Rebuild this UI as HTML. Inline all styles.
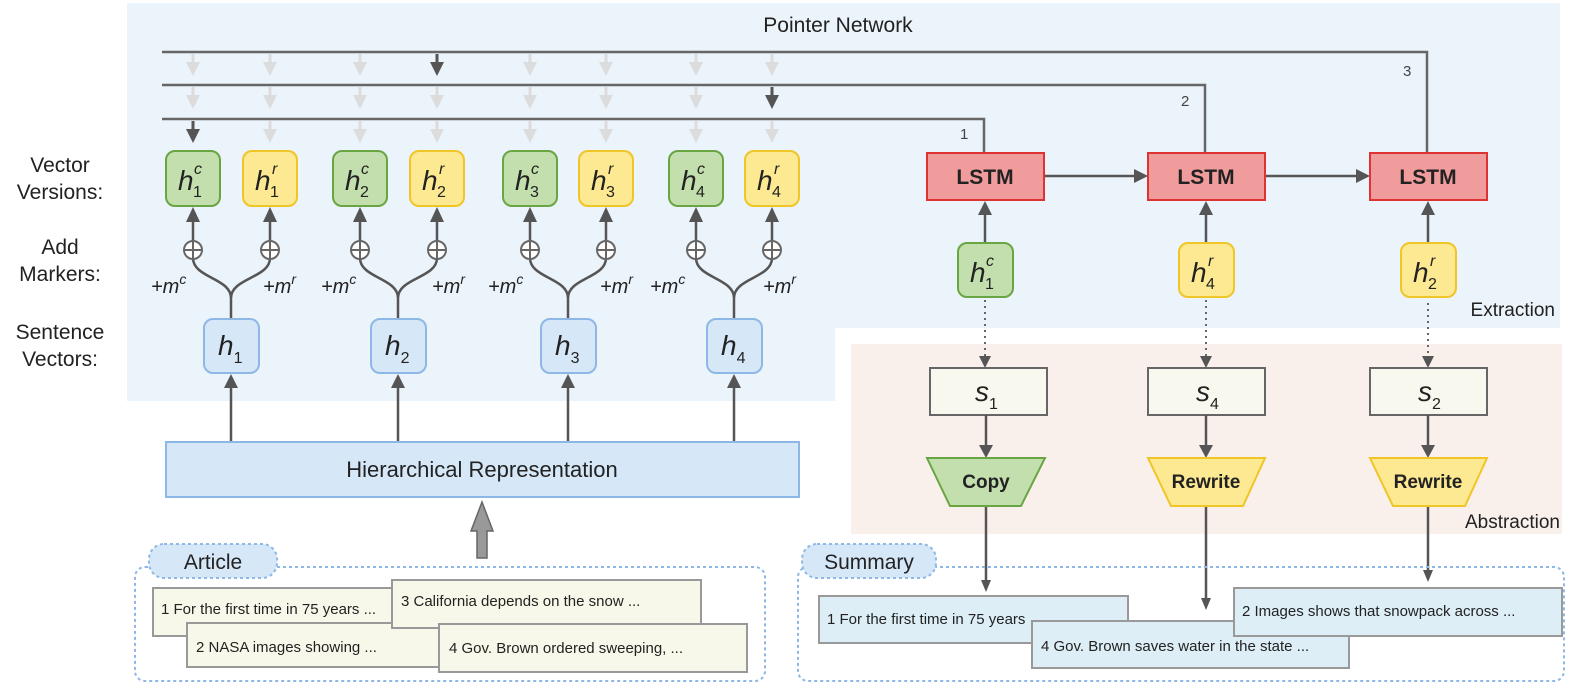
<!DOCTYPE html>
<html><head><meta charset="utf-8"><style>
html,body{margin:0;padding:0;background:#fff}
svg{display:block}
text{font-family:"Liberation Sans",sans-serif}
</style></head><body>
<svg width="1575" height="686" viewBox="0 0 1575 686" xmlns="http://www.w3.org/2000/svg">
<!-- backgrounds -->
<path d="M127,3 H1560 V328 H835 V401 H127 Z" fill="#ebf3fb"/>
<rect x="851" y="344" width="711" height="190" fill="#f9f0ec"/>
<text x="838" y="32" font-size="21" text-anchor="middle" fill="#222">Pointer Network</text>
<text x="1555" y="316" font-size="19" text-anchor="end" fill="#222">Extraction</text>
<text x="1560" y="528" font-size="19" text-anchor="end" fill="#222">Abstraction</text>
<!-- left labels -->
<g font-size="21" fill="#222" text-anchor="middle">
<text x="60" y="172">Vector</text><text x="60" y="199">Versions:</text>
<text x="60" y="254">Add</text><text x="60" y="281">Markers:</text>
<text x="60" y="339">Sentence</text><text x="60" y="366">Vectors:</text>
</g>
<!-- pointer lines -->
<g stroke="#666" stroke-width="2.5" fill="none">
<path d="M162,52 H1427 V153"/>
<path d="M162,85 H1205 V153"/>
<path d="M162,119 H984 V153"/>
</g>
<g font-size="15" fill="#444"><text x="1403" y="76">3</text><text x="1181" y="106">2</text><text x="960" y="139">1</text></g>
<!-- light arrows -->
<g stroke="#dcdcdc" stroke-width="3">
<path d="M193,54V63M270,54V63M360,54V63M530,54V63M606,54V63M696,54V63M772,54V63"/>
<path d="M193,87V96M270,87V96M360,87V96M437,87V96M530,87V96M606,87V96M696,87V96"/>
<path d="M270,121V130M360,121V130M437,121V130M530,121V130M606,121V130M696,121V130M772,121V130"/>
</g>
<g fill="#dcdcdc">
<path d="M186,62H200L193,76Z M263,62H277L270,76Z M353,62H367L360,76Z M523,62H537L530,76Z M599,62H613L606,76Z M689,62H703L696,76Z M765,62H779L772,76Z"/>
<path d="M186,95H200L193,109Z M263,95H277L270,109Z M353,95H367L360,109Z M430,95H444L437,109Z M523,95H537L530,109Z M599,95H613L606,109Z M689,95H703L696,109Z"/>
<path d="M263,129H277L270,143Z M353,129H367L360,143Z M430,129H444L437,143Z M523,129H537L530,143Z M599,129H613L606,143Z M689,129H703L696,143Z M765,129H779L772,143Z"/>
</g>
<g stroke="#555" stroke-width="3"><path d="M437,54V63M772,87V96M193,121V130"/></g>
<g fill="#555"><path d="M430,62H444L437,76Z M765,95H779L772,109Z M186,129H200L193,143Z"/></g>
<!-- vector version boxes -->
<g stroke-width="2">
<rect x="166" y="151" width="54" height="55" rx="9" fill="#c3dfae" stroke="#6aa544"/>
<rect x="243" y="151" width="54" height="55" rx="9" fill="#fde991" stroke="#f0c528"/>
<rect x="333" y="151" width="54" height="55" rx="9" fill="#c3dfae" stroke="#6aa544"/>
<rect x="410" y="151" width="54" height="55" rx="9" fill="#fde991" stroke="#f0c528"/>
<rect x="503" y="151" width="54" height="55" rx="9" fill="#c3dfae" stroke="#6aa544"/>
<rect x="579" y="151" width="54" height="55" rx="9" fill="#fde991" stroke="#f0c528"/>
<rect x="669" y="151" width="54" height="55" rx="9" fill="#c3dfae" stroke="#6aa544"/>
<rect x="745" y="151" width="54" height="55" rx="9" fill="#fde991" stroke="#f0c528"/>
</g>
<g font-size="28" fill="#222" font-style="italic">
<text x="178" y="190">h</text><text x="194" y="174" font-size="16">c</text><text x="193" y="197" font-size="16" font-style="normal">1</text>
<text x="255" y="190">h</text><text x="272" y="174" font-size="16">r</text><text x="270" y="197" font-size="16" font-style="normal">1</text>
<text x="345" y="190">h</text><text x="361" y="174" font-size="16">c</text><text x="360" y="197" font-size="16" font-style="normal">2</text>
<text x="422" y="190">h</text><text x="439" y="174" font-size="16">r</text><text x="437" y="197" font-size="16" font-style="normal">2</text>
<text x="515" y="190">h</text><text x="531" y="174" font-size="16">c</text><text x="530" y="197" font-size="16" font-style="normal">3</text>
<text x="591" y="190">h</text><text x="608" y="174" font-size="16">r</text><text x="606" y="197" font-size="16" font-style="normal">3</text>
<text x="681" y="190">h</text><text x="697" y="174" font-size="16">c</text><text x="696" y="197" font-size="16" font-style="normal">4</text>
<text x="757" y="190">h</text><text x="774" y="174" font-size="16">r</text><text x="772" y="197" font-size="16" font-style="normal">4</text>
</g>
<!-- markers / forks -->
<g stroke="#555" stroke-width="2.5" fill="none">
<path d="M193,241V220M270,241V220M360,241V220M437,241V220M530,241V220M606,241V220M696,241V220M772,241V220"/>
<path d="M231,319 V298 C231,278 193,278 193,258 M231,298 C231,278 270,278 270,258"/>
<path d="M398,319 V298 C398,278 360,278 360,258 M398,298 C398,278 437,278 437,258"/>
<path d="M568,319 V298 C568,278 530,278 530,258 M568,298 C568,278 606,278 606,258"/>
<path d="M734,319 V298 C734,278 696,278 696,258 M734,298 C734,278 772,278 772,258"/>
</g>
<g fill="#555"><path d="M186,222H200L193,207Z M263,222H277L270,207Z M353,222H367L360,207Z M430,222H444L437,207Z M523,222H537L530,207Z M599,222H613L606,207Z M689,222H703L696,207Z M765,222H779L772,207Z"/></g>
<g stroke="#666" stroke-width="2" fill="#fff">
<circle cx="193" cy="250" r="9"/><circle cx="270" cy="250" r="9"/><circle cx="360" cy="250" r="9"/><circle cx="437" cy="250" r="9"/>
<circle cx="530" cy="250" r="9"/><circle cx="606" cy="250" r="9"/><circle cx="696" cy="250" r="9"/><circle cx="772" cy="250" r="9"/>
</g>
<path stroke="#666" stroke-width="2" d="M184,250H202M193,241V259M261,250H279M270,241V259M351,250H369M360,241V259M428,250H446M437,241V259M521,250H539M530,241V259M597,250H615M606,241V259M687,250H705M696,241V259M763,250H781M772,241V259"/>
<g font-size="20" fill="#222" font-style="italic">
<text x="151" y="293">+m<tspan font-size="14" dy="-9">c</tspan></text>
<text x="263" y="293">+m<tspan font-size="14" dy="-9">r</tspan></text>
<text x="321" y="293">+m<tspan font-size="14" dy="-9">c</tspan></text>
<text x="432" y="293">+m<tspan font-size="14" dy="-9">r</tspan></text>
<text x="488" y="293">+m<tspan font-size="14" dy="-9">c</tspan></text>
<text x="600" y="293">+m<tspan font-size="14" dy="-9">r</tspan></text>
<text x="650" y="293">+m<tspan font-size="14" dy="-9">c</tspan></text>
<text x="763" y="293">+m<tspan font-size="14" dy="-9">r</tspan></text>
</g>
<!-- sentence vectors -->
<g fill="#d6e7f8" stroke="#8db8e6" stroke-width="2">
<rect x="204" y="319" width="55" height="54" rx="9"/><rect x="371" y="319" width="55" height="54" rx="9"/>
<rect x="541" y="319" width="55" height="54" rx="9"/><rect x="707" y="319" width="55" height="54" rx="9"/>
</g>
<g font-size="28" fill="#222" font-style="italic">
<text x="218" y="355">h<tspan font-size="16" font-style="normal" dy="8">1</tspan></text>
<text x="385" y="355">h<tspan font-size="16" font-style="normal" dy="8">2</tspan></text>
<text x="555" y="355">h<tspan font-size="16" font-style="normal" dy="8">3</tspan></text>
<text x="721" y="355">h<tspan font-size="16" font-style="normal" dy="8">4</tspan></text>
</g>
<g stroke="#555" stroke-width="2.5"><path d="M231,442V385M398,442V385M568,442V385M734,442V385"/></g>
<g fill="#555"><path d="M224,388H238L231,374Z M391,388H405L398,374Z M561,388H575L568,374Z M727,388H741L734,374Z"/></g>
<rect x="166" y="442" width="633" height="55" fill="#d6e7f8" stroke="#8db8e6" stroke-width="2"/>
<text x="482" y="477" font-size="22" text-anchor="middle" fill="#222">Hierarchical Representation</text>
<path d="M477,558 V531 H471 L482,502 L493,531 H487 V558 Z" fill="#999" stroke="#666" stroke-width="1.5"/>
<!-- LSTMs -->
<g stroke="#555" stroke-width="2.5">
<path d="M1044,176H1136M1265,176H1358"/>
<path d="M985,243V212M1206,243V212M1428,243V212"/>
</g>
<g fill="#555">
<path d="M1134,169L1148,176L1134,183Z M1356,169L1370,176L1356,183Z"/>
<path d="M978,215H992L985,201Z M1199,215H1213L1206,201Z M1421,215H1435L1428,201Z"/>
</g>
<g fill="#f09c9c" stroke="#d33" stroke-width="2">
<rect x="927" y="153" width="117" height="47"/><rect x="1148" y="153" width="117" height="47"/><rect x="1370" y="153" width="117" height="47"/>
</g>
<g font-size="21" font-weight="bold" fill="#222" text-anchor="middle">
<text x="985" y="184">LSTM</text><text x="1206" y="184">LSTM</text><text x="1428" y="184">LSTM</text>
</g>
<rect x="958" y="243" width="55" height="54" rx="9" fill="#c3dfae" stroke="#6aa544" stroke-width="2"/>
<rect x="1179" y="243" width="55" height="54" rx="9" fill="#fde991" stroke="#f0c528" stroke-width="2"/>
<rect x="1401" y="243" width="55" height="54" rx="9" fill="#fde991" stroke="#f0c528" stroke-width="2"/>
<g font-size="28" fill="#222" font-style="italic">
<text x="970" y="282">h</text><text x="986" y="266" font-size="16">c</text><text x="985" y="289" font-size="16" font-style="normal">1</text>
<text x="1191" y="282">h</text><text x="1208" y="266" font-size="16">r</text><text x="1206" y="289" font-size="16" font-style="normal">4</text>
<text x="1413" y="282">h</text><text x="1430" y="266" font-size="16">r</text><text x="1428" y="289" font-size="16" font-style="normal">2</text>
</g>
<g stroke="#666" stroke-width="2" stroke-dasharray="2,4">
<path d="M985,300 V358 M1206,300 V358 M1428,303 V358"/>
</g>
<g fill="#555"><path d="M979,356 L991,356 L985,368Z M1200,356 L1212,356 L1206,368Z M1422,356 L1434,356 L1428,368Z"/></g>
<g fill="#f8f8ee" stroke="#666" stroke-width="2">
<rect x="930" y="368" width="117" height="47"/><rect x="1148" y="368" width="117" height="47"/><rect x="1370" y="368" width="117" height="47"/>
</g>
<g font-size="28" fill="#222" font-style="italic">
<text x="975" y="401">s<tspan font-size="16" font-style="normal" dy="8">1</tspan></text>
<text x="1196" y="401">s<tspan font-size="16" font-style="normal" dy="8">4</tspan></text>
<text x="1418" y="401">s<tspan font-size="16" font-style="normal" dy="8">2</tspan></text>
</g>
<g stroke="#555" stroke-width="2.5">
<path d="M986,415V448M1206,415V448M1428,415V448"/>
<path d="M986,506V582M1206,506V600M1428,506V572"/>
</g>
<g fill="#555">
<path d="M979,445H993L986,458Z M1199,445H1213L1206,458Z M1421,445H1435L1428,458Z"/>
<path d="M981,580H991L986,592Z M1201,598H1211L1206,610Z M1423,570H1433L1428,582Z"/>
</g>
<path d="M927,458 H1045 L1021,506 H950 Z" fill="#c3dfae" stroke="#6aa544" stroke-width="2"/>
<path d="M1148,458 H1265 L1243,506 H1171 Z" fill="#fde991" stroke="#f0c528" stroke-width="2"/>
<path d="M1370,458 H1487 L1465,506 H1393 Z" fill="#fde991" stroke="#f0c528" stroke-width="2"/>
<g font-size="19" font-weight="bold" fill="#222" text-anchor="middle">
<text x="986" y="488">Copy</text><text x="1206" y="488">Rewrite</text><text x="1428" y="488">Rewrite</text>
</g>
<!-- article -->
<rect x="135" y="567" width="630" height="114" rx="10" fill="none" stroke="#8db8e6" stroke-width="2" stroke-dasharray="3,3"/>
<rect x="149" y="544" width="128" height="34" rx="15" fill="#d6e7f8" stroke="#8db8e6" stroke-width="2" stroke-dasharray="3,3"/>
<text x="213" y="569" font-size="21" text-anchor="middle" fill="#222">Article</text>
<g fill="#f8f8ea" stroke="#999" stroke-width="2">
<rect x="153" y="588" width="243" height="48"/>
<rect x="187" y="623" width="255" height="44"/>
<rect x="392" y="580" width="309" height="48"/>
<rect x="439" y="624" width="308" height="48"/>
</g>
<g font-size="15" fill="#222">
<text x="161" y="614">1 For the first time in 75 years ...</text>
<text x="401" y="606">3 California depends on the snow ...</text>
<text x="196" y="652">2 NASA images showing  ...</text>
<text x="449" y="653">4 Gov. Brown ordered sweeping, ...</text>
</g>
<!-- summary -->
<rect x="798" y="567" width="766" height="114" rx="10" fill="none" stroke="#8db8e6" stroke-width="2" stroke-dasharray="3,3"/>
<rect x="802" y="544" width="134" height="34" rx="15" fill="#d6e7f8" stroke="#8db8e6" stroke-width="2" stroke-dasharray="3,3"/>
<text x="869" y="569" font-size="21" text-anchor="middle" fill="#222">Summary</text>
<g fill="#ddeef6" stroke="#999" stroke-width="2">
<rect x="819" y="596" width="309" height="47"/>
<rect x="1032" y="621" width="317" height="47"/>
<rect x="1234" y="588" width="328" height="48"/>
</g>
<g font-size="15" fill="#222">
<text x="827" y="624">1 For the first time in 75 years</text>
<text x="1041" y="651">4 Gov. Brown saves water in the state ...</text>
<text x="1242" y="616">2 Images shows that snowpack across ...</text>
</g>
</svg>
</body></html>
